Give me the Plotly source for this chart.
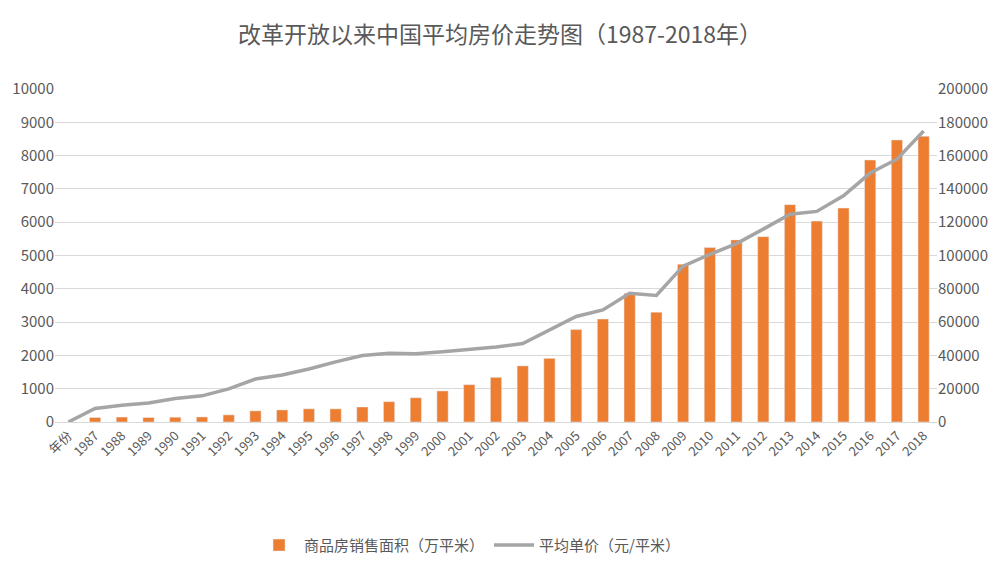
import plotly.graph_objects as go

categories = ["年份"] + [str(y) for y in range(1987, 2019)]

# 商品房销售面积（万平米） – right axis
area = [None, 2700, 2970, 2700, 2870, 3030, 4290, 6690, 7230, 7910, 7900,
        9010, 12190, 14560, 18640, 22410, 26810, 33720, 38230, 55490, 61860,
        77350, 65970, 94760, 104760, 109370, 111300, 130550, 120650, 128500,
        157350, 169410, 171650]

# 平均单价（元/平米） – left axis
price = [0, 408, 503, 573, 703, 786, 995, 1291, 1409, 1591, 1806,
         1997, 2063, 2053, 2112, 2170, 2250, 2359, 2778, 3168, 3367,
         3864, 3800, 4681, 5032, 5357, 5791, 6237, 6324, 6793,
         7476, 7892, 8737]

font_family = "Noto Sans CJK SC, Microsoft YaHei, sans-serif"
text_color = "#595959"

fig = go.Figure()
fig.add_trace(go.Bar(
    x=categories, y=area, name="商品房销售面积（万平米）",
    marker_color="#ED7D31", yaxis="y"))
fig.add_trace(go.Scatter(
    x=categories, y=price, name="平均单价（元/平米）", mode="lines",
    line=dict(color="#A5A5A5", width=3.5), yaxis="y2"))

fig.update_layout(
    width=1000, height=561,
    margin=dict(l=55, r=63, t=89, b=139, autoexpand=False),
    paper_bgcolor="white", plot_bgcolor="white",
    font=dict(family=font_family, color=text_color, size=14),
    title=dict(text="改革开放以来中国平均房价走势图（1987-2018年）",
               x=0.5, xanchor="center", y=0.938, yanchor="middle",
               font=dict(size=23, color=text_color, family=font_family)),
    bargap=0.58,
    showlegend=True,
    legend=dict(orientation="h", x=0.47, xanchor="center",
                yref="container", y=0.028, yanchor="middle",
                font=dict(size=15, color=text_color),
                traceorder="normal", itemwidth=40),
    xaxis=dict(type="category", tickangle=-45, showgrid=False,
               showline=True, linecolor="#D9D9D9", linewidth=1,
               ticks="", automargin=False,
               tickfont=dict(size=13, color=text_color)),
    yaxis=dict(side="right", range=[0, 200000], dtick=20000,
               tickformat="d", automargin=False,
               showgrid=True, gridcolor="#D9D9D9", gridwidth=1,
               zeroline=False, ticks="", showline=False,
               tickfont=dict(size=15, color=text_color)),
    yaxis2=dict(side="left", overlaying="y", range=[0, 10000], dtick=1000,
                tickformat="d", automargin=False,
                showgrid=False, zeroline=False, ticks="", showline=False,
                tickfont=dict(size=15, color=text_color)),
)

fig.write_html("out.html")
